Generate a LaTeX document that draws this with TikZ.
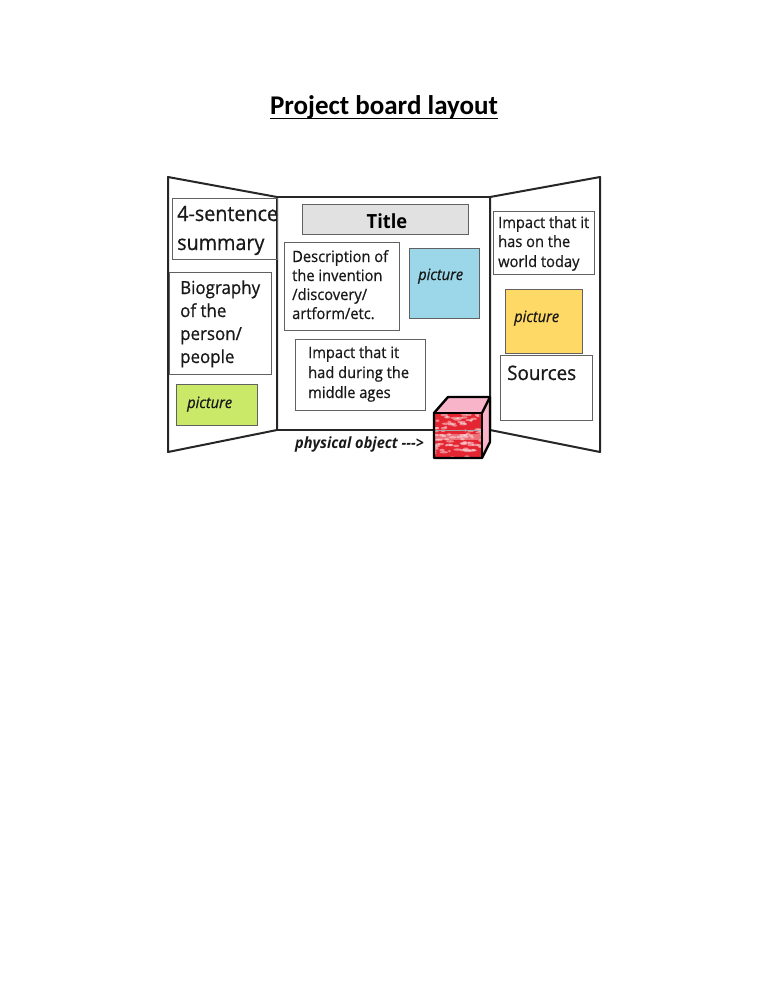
\documentclass[tikz,border=0pt]{standalone}
\usepackage{fontspec}
\setmainfont{Open Sans}[FakeStretch=0.94,FakeBold=0.7]
\newfontfamily\titlefont{Carlito}
\newfontfamily\physfont{Open Sans}[FakeStretch=0.94]
\definecolor{picgreen}{RGB}{202,233,104}
\definecolor{picblue}{RGB}{155,215,232}
\definecolor{picyellow}{RGB}{255,217,102}
\definecolor{titlegray}{RGB}{225,225,225}
\definecolor{cubepink}{RGB}{248,180,200}
\definecolor{cubered}{RGB}{228,38,50}
\begin{document}
\begin{tikzpicture}[x=1pt,y=-1pt,
  board/.style={draw=black!85, line width=2pt, line join=round},
  box/.style={draw=black!62, line width=1.2pt, anchor=north west, inner sep=0pt},
  txt/.style={anchor=base west, inner sep=0pt, text=black!90},
  big/.style={font=\fontsize{21}{25}\selectfont},
  mid/.style={font=\fontsize{18}{22}\selectfont},
  small/.style={font=\fontsize{15.6}{19}\selectfont},
  pic/.style={font=\itshape\fontsize{15.5}{19}\selectfont},
  cubeedge/.style={draw=black, line width=2.4pt, line join=round}
]
\useasboundingbox (0,0) rectangle (768,994);

% heading
\node[anchor=base, inner sep=0pt, font=\titlefont\bfseries\fontsize{27}{32}\selectfont] (heading) at (384,114) {Project board layout};
\draw[line width=1.8pt] ([yshift=-4.5pt]heading.base west) -- ([yshift=-4.5pt]heading.base east);

% board
\coordinate (LTL) at (168,177);
\coordinate (LTR) at (277,197);
\coordinate (LBR) at (277,430);
\coordinate (LBL) at (168,452);
\coordinate (RTL) at (490,197);
\coordinate (RTR) at (600,177);
\coordinate (RBR) at (600,452);
\coordinate (RBL) at (490,430);
\draw[board] (LTL) -- (LTR) -- (LBR) -- (LBL) -- cycle;
\draw[board] (LTR) -- (RTL);
\draw[board] (LBR) -- (RBL);
\draw[board] (RTL) -- (RTR) -- (RBR) -- (RBL) -- cycle;

% left panel
\node[box, minimum width=105pt, minimum height=61pt] (summarybox) at (172,198) {};
\node[txt, big] (s1) at (177,221) {4-sentence};
\node[txt, big] (s2) at (177,250) {summary};

\node[box, minimum width=102pt, minimum height=102pt] (biobox) at (169,272) {};
\node[txt, mid] (b1) at (180,294) {Biography};
\node[txt, mid] (b2) at (180,317) {of the};
\node[txt, mid] (b3) at (180,340) {person/};
\node[txt, mid] (b4) at (180,363) {people};

\node[box, fill=picgreen, minimum width=81pt, minimum height=41pt] (greenpic) at (176,384) {};
\node[txt, pic] (gp) at (187,408) {picture};

% center panel
\node[box, fill=titlegray, minimum width=166pt, minimum height=30pt] (titlebox) at (302,204) {};
\node[anchor=base, inner sep=0pt, font=\physfont\bfseries\fontsize{19.5}{23}\selectfont] (titletext) at (387,228) {Title};

\node[box, minimum width=115pt, minimum height=88pt] (descbox) at (284,242) {};
\node[txt, small] (d1) at (292,262) {Description of};
\node[txt, small] (d2) at (292,281) {the invention};
\node[txt, small] (d3) at (292,300) {/discovery/};
\node[txt, small] (d4) at (292,319) {artform/etc.};

\node[box, fill=picblue, minimum width=70pt, minimum height=70pt] (bluepic) at (409,248) {};
\node[txt, pic] (bp) at (418,280) {picture};

\node[box, minimum width=130pt, minimum height=71pt] (midbox) at (295,339) {};
\node[txt, small] (m1) at (308,358) {Impact that it};
\node[txt, small] (m2) at (308,378) {had during the};
\node[txt, small] (m3) at (308,398) {middle ages};

\node[txt, font=\physfont\bfseries\itshape\fontsize{15.5}{19}\selectfont] (phys) at (295,448) {physical object {-}{-}{-}>};

% right panel
\node[box, minimum width=101pt, minimum height=63pt] (worldbox) at (493,211) {};
\node[txt, small] (w1) at (498,228) {Impact that it};
\node[txt, small] (w2) at (498,247) {has on the};
\node[txt, small] (w3) at (498,267) {world today};

\node[box, fill=picyellow, minimum width=77pt, minimum height=64pt] (yellowpic) at (505,289) {};
\node[txt, pic] (yp) at (514,322) {picture};

\node[box, minimum width=92pt, minimum height=65pt] (sourcesbox) at (500,355) {};
\node[txt, font=\fontsize{20}{24}\selectfont] (src) at (507,380) {Sources};

% cube
\coordinate (F1) at (434,413);
\coordinate (F2) at (482,413);
\coordinate (F3) at (482,458);
\coordinate (F4) at (434,458);
\coordinate (T1) at (448,397);
\coordinate (T2) at (490,397);
\coordinate (R3) at (490,442);
\fill[cubepink] (F1) -- (T1) -- (T2) -- (F2) -- cycle;
\fill[cubepink] (F2) -- (T2) -- (R3) -- (F3) -- cycle;
\begin{scope}
  \clip (F1) rectangle (F3);
  \fill[cubered] (F1) rectangle (F3);
  \pgfmathsetseed{11}
  \foreach \i in {1,...,90} {
    \pgfmathsetmacro\xx{434+50*rnd}
    \pgfmathsetmacro\yy{413+46*rnd}
    \pgfmathsetmacro\ww{1.5+3*rnd}
    \fill[white, opacity=0.45] (\xx,\yy) ellipse ({\ww pt} and 1.2pt);
  }
  \fill[white, opacity=0.35] (434,434) rectangle (482,440);
  \draw[black!35, line width=0.6pt] (434,430) -- (482,430);
\end{scope}
\draw[cubeedge] (F1) -- (T1) -- (T2) -- (R3) -- (F3) -- (F4) -- cycle;
\draw[cubeedge] (F1) -- (F2) -- (F3);
\draw[cubeedge] (F2) -- (T2);
\end{tikzpicture}
\end{document}
